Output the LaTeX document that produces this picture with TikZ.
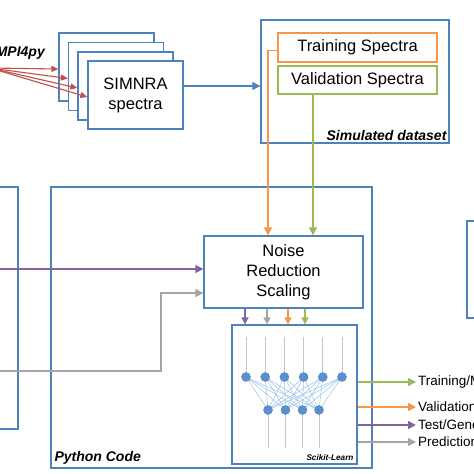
\documentclass[tikz,border=0pt]{standalone}
\usepackage{fontspec}
\setmainfont{Liberation Sans}
\usetikzlibrary{arrows.meta,positioning,calc}
\definecolor{flowblue}{HTML}{4F81BD}
\definecolor{flowred}{HTML}{C0504D}
\definecolor{floworange}{HTML}{F79646}
\definecolor{flowgreen}{HTML}{9BBB59}
\definecolor{flowpurple}{HTML}{8064A2}
\definecolor{flowgray}{HTML}{A5A5A5}
\definecolor{netstem}{HTML}{BCC8D6}
\definecolor{netlink}{HTML}{9DC3E6}
\definecolor{neuronblue}{HTML}{5B8FD0}
\newcommand{\boxfont}{\fontsize{16.5}{20}\selectfont}
\newcommand{\tagfont}{\fontsize{14}{16}\selectfont\bfseries\itshape}
\tikzset{
  box/.style={draw=flowblue, line width=1.3pt, inner sep=0pt, align=center, font=\boxfont},
  stackbox/.style={box, fill=white, minimum width=95, minimum height=68},
  flow/.style={line width=1.6pt, -{Triangle[length=8pt,width=8pt]}},
  redarrow/.style={flowred, line width=1.1pt, -{Triangle[length=7pt,width=6pt]}},
  neuron/.style={circle, fill=neuronblue, draw=flowblue, line width=0.4pt, minimum size=9, inner sep=0pt},
  outlabel/.style={anchor=west, inner sep=2pt, font=\fontsize{13.5}{15}\selectfont}
}

\begin{document}
\begin{tikzpicture}[x=1pt,y=-1pt]
  \useasboundingbox (0,0) rectangle (474,474);
  \clip (0,0) rectangle (474,474);
  % stacked SIMNRA runs
  \foreach \i/\x/\y in {1/106.5/67, 2/116/76.5, 3/125.5/86}
    \node[stackbox] (s\i) at (\x,\y) {};
  \node[stackbox] (simnra) at (135.5,95) {SIMNRA\\spectra};
  \node[anchor=east, inner sep=2pt, font=\tagfont] (mpi) at (47,53) {MPI4py};
  \coordinate (fan) at (-10,68);
  \foreach \i in {1,2,3}
    \draw[redarrow] (fan) -- ([yshift=-2pt]s\i.west);
  \draw[redarrow] (fan) -- ([yshift=-2pt]simnra.west);
  % simulated dataset
  \node[box, minimum width=188, minimum height=123] (simset) at (355,81.5) {};
  \node[anchor=south east, inner sep=3pt, font=\tagfont] at (simset.south east) {Simulated dataset};
  \node[box, draw=floworange, minimum width=159, minimum height=29] (train) at (357.5,47.5) {Training Spectra};
  \node[box, draw=flowgreen, minimum width=159, minimum height=28] (val) at (357.5,80) {Validation Spectra};
  \coordinate (feed) at (0,86);
  \draw[flow, flowblue] (simnra.east |- feed) -- (simset.west |- feed);
  % side boxes, cut by the border
  \draw[flowblue, line width=1.3pt] (-20,187) rectangle (18,429);
  \draw[flowblue, line width=1.3pt] (467,221) rectangle (500,318);
  % python code
  \node[box, minimum width=321, minimum height=281] (python) at (211.5,327.5) {};
  \node[anchor=south west, inner sep=4pt, font=\tagfont] at (python.south west) {Python Code};
  \node[box, minimum width=159, minimum height=72] (noise) at (283.5,272) {Noise\\Reduction\\Scaling};
  \coordinate (gx) at (313,0);
  \draw[flow, floworange] ([yshift=-3pt]train.west) -| ([xshift=-15.5pt]noise.north);
  \draw[flow, flowgreen] (val.south -| gx) -- (noise.north -| gx);
  \coordinate (pin) at (-5,269);
  \draw[flow, flowpurple] (pin) -- (pin -| noise.west);
  \coordinate (gin) at (-5,371);
  \coordinate (gbend) at (161,293);
  \draw[flow, flowgray] (gin) -| (gbend) -- (gbend -| noise.west);
  % network
  \node[box, minimum width=125, minimum height=139] (nn) at (294.5,394.5) {};
  \node[anchor=south east, inner sep=4pt, font=\fontsize{8.2}{10}\selectfont\bfseries\itshape] at (nn.south east) {Scikit-Learn};
  \foreach \x/\c in {245/flowpurple, 267/flowgray, 288/floworange, 305/flowgreen}
    \draw[flow, \c, -{Triangle[length=7pt,width=7pt]}] (noise.south -| \x,0) -- (nn.north -| \x,0);
  \foreach \i in {1,...,6}
    \coordinate (pu\i) at ({246+19.2*(\i-1)},377);
  \foreach \i/\x in {1/268, 2/285.5, 3/302.5, 4/319}
    \coordinate (pl\i) at (\x,410);
  \foreach \i in {1,...,6}
    \foreach \j in {1,...,4}
      \draw[netlink, line width=0.5pt] (pu\i) -- (pl\j);
  \foreach \i in {1,...,6} {
    \draw[netstem, line width=1pt] (pu\i) -- ++(0,-40);
    \node[neuron] (u\i) at (pu\i) {};
  }
  \foreach \i in {1,...,4} {
    \draw[netstem, line width=1pt] (pl\i) -- ++(0,38);
    \node[neuron] (l\i) at (pl\i) {};
  }
  % outputs
  \node[outlabel] (otrain) at (416,382) {Training/Monitoring};
  \node[outlabel] (oval) at (416,407) {Validation};
  \node[outlabel] (otest) at (416,425) {Test/Generalization};
  \node[outlabel] (opred) at (416,442) {Prediction};
  \draw[flow, flowgreen] (nn.east |- otrain) -- (otrain.west);
  \draw[flow, floworange] (nn.east |- oval) -- (oval.west);
  \draw[flow, flowpurple] (nn.east |- otest) -- (otest.west);
  \draw[flow, flowgray] (nn.east |- opred) -- (opred.west);
\end{tikzpicture}
\end{document}
